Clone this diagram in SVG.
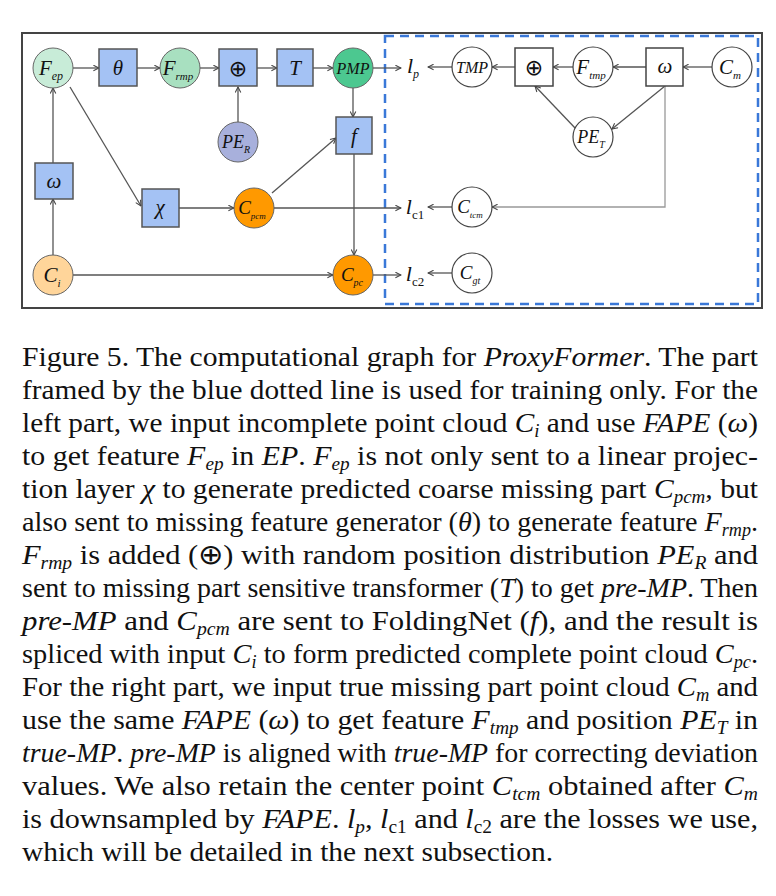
<svg xmlns="http://www.w3.org/2000/svg" width="776" height="896" viewBox="0 0 776 896">
<style>
.bx{fill:#a4c2f4;stroke:#555;stroke-width:1.5}
.wb{fill:#fff;stroke:#444;stroke-width:1.5}
.cw{fill:#fff;stroke:#444;stroke-width:1.2}
.m{font-family:"Liberation Serif",serif;font-style:italic;fill:#111;text-anchor:middle}
.e{stroke:#555;stroke-width:1.3;fill:none;marker-end:url(#a)}
.cap{font-family:"Liberation Serif",serif;font-size:28px;fill:#111}
.i{font-style:italic}
</style>
<defs>
<marker id="a" viewBox="0 0 10 10" refX="9" refY="5" markerWidth="7" markerHeight="7" orient="auto" markerUnits="userSpaceOnUse"><path d="M1,1 L9,5 L1,9" fill="none" stroke="#444" stroke-width="1.5"/></marker>
</defs>
<rect x="22" y="33" width="740" height="275" fill="#fff" stroke="#444" stroke-width="2"/>
<rect x="385" y="36" width="373" height="268" fill="none" stroke="#3a78d8" stroke-width="2.5" stroke-dasharray="9,6"/>
<g id="connectors">
<line class="e" x1="73" y1="68" x2="99" y2="68"/>
<line class="e" x1="137" y1="68" x2="160" y2="68"/>
<line class="e" x1="200" y1="68" x2="219" y2="68"/>
<line class="e" x1="257" y1="68" x2="277" y2="68"/>
<line class="e" x1="313" y1="68" x2="333" y2="68"/>
<line class="e" x1="373" y1="68" x2="401" y2="68"/>
<line class="e" x1="238" y1="122" x2="238" y2="87"/>
<line class="e" x1="353" y1="88" x2="353" y2="117"/>
<line class="e" x1="53" y1="255" x2="53" y2="199"/>
<line class="e" x1="53" y1="163" x2="53" y2="88"/>
<line class="e" x1="70" y1="87" x2="141" y2="206"/>
<line class="e" x1="179" y1="208" x2="234" y2="208"/>
<line class="e" x1="272" y1="193" x2="336" y2="138"/>
<line class="e" x1="274" y1="208" x2="401" y2="208"/>
<line class="e" x1="354" y1="154" x2="354" y2="255"/>
<line class="e" x1="73" y1="275" x2="333" y2="275"/>
<line class="e" x1="373" y1="275" x2="401" y2="275"/>
<line class="e" x1="712" y1="67" x2="683" y2="67"/>
<line class="e" x1="646" y1="67" x2="613" y2="67"/>
<line class="e" x1="573" y1="67" x2="553" y2="67"/>
<line class="e" x1="515" y1="67" x2="492" y2="67"/>
<line class="e" x1="452" y1="67" x2="428" y2="67"/>
<line class="e" x1="665" y1="86" x2="612" y2="129"/>
<line class="e" x1="576" y1="129" x2="535" y2="86"/>
<polyline class="e" style="stroke:#999" points="665,86 665,207 492,207"/>
<line class="e" x1="452" y1="207" x2="428" y2="207"/>
<line class="e" x1="452" y1="273" x2="428" y2="273"/>
</g>
<g id="Fep"><circle cx="53" cy="68" r="20" fill="#c8ecd8" stroke="#666"/><text class="m" x="51" y="75" font-size="21">F<tspan font-size="12" dy="5">ep</tspan></text></g>
<g id="theta"><rect class="bx" x="99" y="49" width="38" height="37"/><text class="m" x="118" y="75" font-size="21">θ</text></g>
<g id="Frmp"><circle cx="180" cy="68" r="20" fill="#a8e0c0" stroke="#666"/><text class="m" x="178" y="75" font-size="21">F<tspan font-size="11" dy="5">rmp</tspan></text></g>
<g id="plusL"><rect class="bx" x="219" y="49" width="38" height="37"/><text x="238" y="76" font-family="DejaVu Sans,sans-serif" font-size="22" text-anchor="middle" fill="#111">⊕</text></g>
<g id="T"><rect class="bx" x="277" y="49" width="36" height="37"/><text class="m" x="295" y="75" font-size="21">T</text></g>
<g id="PMP"><circle cx="353" cy="68" r="20" fill="#4cc890" stroke="#666"/><text class="m" x="353" y="74" font-size="16">PMP</text></g>
<g id="PER"><circle cx="238" cy="142" r="20" fill="#a8b0dc" stroke="#666"/><text class="m" x="236" y="148" font-size="18">PE<tspan font-size="10" dy="5">R</tspan></text></g>
<g id="f"><rect class="bx" x="336" y="117" width="36" height="37"/><text class="m" x="354" y="143" font-size="21">f</text></g>
<g id="omegaL"><rect class="bx" x="35" y="163" width="38" height="36"/><text class="m" x="54" y="188" font-size="21">ω</text></g>
<g id="chi"><rect class="bx" x="142" y="189" width="37" height="38"/><text class="m" x="160" y="214" font-size="21">χ</text></g>
<g id="Cpcm"><circle cx="254" cy="208" r="20" fill="#ff9900" stroke="#666"/><text class="m" x="252" y="214" font-size="19">C<tspan font-size="9" dy="5">pcm</tspan></text></g>
<g id="Ci"><circle cx="53" cy="275" r="20" fill="#ffd59a" stroke="#666"/><text class="m" x="52" y="282" font-size="21">C<tspan font-size="11" dy="5">i</tspan></text></g>
<g id="Cpc"><circle cx="353" cy="275" r="20" fill="#ff9900" stroke="#666"/><text class="m" x="352" y="281" font-size="19">C<tspan font-size="10" dy="5">pc</tspan></text></g>
<g id="lp"><text class="m" x="413" y="73" font-size="22">l<tspan font-size="12" dy="5">p</tspan></text></g>
<g id="lc1"><text class="m" x="415" y="214" font-size="22">l<tspan font-size="13" dy="5" font-style="normal">c1</tspan></text></g>
<g id="lc2"><text class="m" x="415" y="281" font-size="22">l<tspan font-size="13" dy="5" font-style="normal">c2</tspan></text></g>
<g id="TMP"><circle class="cw" cx="472" cy="67" r="20"/><text class="m" x="472" y="73" font-size="16">TMP</text></g>
<g id="plusR"><rect class="wb" x="515" y="48" width="38" height="38"/><text x="534" y="75" font-family="DejaVu Sans,sans-serif" font-size="22" text-anchor="middle" fill="#111">⊕</text></g>
<g id="Ftmp"><circle class="cw" cx="593" cy="67" r="20"/><text class="m" x="591" y="74" font-size="21">F<tspan font-size="11" dy="5">tmp</tspan></text></g>
<g id="omegaR"><rect class="wb" x="646" y="48" width="37" height="38"/><text class="m" x="665" y="73" font-size="21">ω</text></g>
<g id="Cm"><circle class="cw" cx="732" cy="67" r="20"/><text class="m" x="730" y="74" font-size="21">C<tspan font-size="11" dy="5">m</tspan></text></g>
<g id="PET"><circle class="cw" cx="593" cy="137" r="20"/><text class="m" x="591" y="143" font-size="18">PE<tspan font-size="10" dy="5">T</tspan></text></g>
<g id="Ctcm"><circle class="cw" cx="472" cy="207" r="20"/><text class="m" x="470" y="213" font-size="19">C<tspan font-size="9" dy="5">tcm</tspan></text></g>
<g id="Cgt"><circle class="cw" cx="472" cy="273" r="20"/><text class="m" x="470" y="279" font-size="19">C<tspan font-size="10" dy="5">gt</tspan></text></g>
<g id="caption" class="cap">
<text x="22" y="366" textLength="736" lengthAdjust="spacingAndGlyphs">Figure 5.  The computational graph for <tspan class="i">ProxyFormer</tspan>.  The part</text>
<text x="22" y="399" textLength="736" lengthAdjust="spacingAndGlyphs">framed by the blue dotted line is used for training only.  For the</text>
<text x="22" y="432" textLength="736" lengthAdjust="spacingAndGlyphs">left part, we input incomplete point cloud <tspan class="i">C</tspan><tspan class="i" font-size="18" baseline-shift="-5">i</tspan> and use <tspan class="i">FAPE</tspan> (<tspan class="i">ω</tspan>)</text>
<text x="22" y="465" textLength="736" lengthAdjust="spacingAndGlyphs">to get feature <tspan class="i">F</tspan><tspan class="i" font-size="18" baseline-shift="-5">ep</tspan> in <tspan class="i">EP</tspan>. <tspan class="i">F</tspan><tspan class="i" font-size="18" baseline-shift="-5">ep</tspan> is not only sent to a linear projec-</text>
<text x="22" y="498" textLength="736" lengthAdjust="spacingAndGlyphs">tion layer <tspan class="i">χ</tspan> to generate predicted coarse missing part <tspan class="i">C</tspan><tspan class="i" font-size="18" baseline-shift="-5">pcm</tspan>, but</text>
<text x="22" y="531" textLength="736" lengthAdjust="spacingAndGlyphs">also sent to missing feature generator (<tspan class="i">θ</tspan>) to generate feature <tspan class="i">F</tspan><tspan class="i" font-size="18" baseline-shift="-5">rmp</tspan>.</text>
<text x="22" y="564" textLength="736" lengthAdjust="spacingAndGlyphs"><tspan class="i">F</tspan><tspan class="i" font-size="18" baseline-shift="-5">rmp</tspan> is added (⊕) with random position distribution <tspan class="i">PE</tspan><tspan class="i" font-size="18" baseline-shift="-5">R</tspan> and</text>
<text x="22" y="597" textLength="736" lengthAdjust="spacingAndGlyphs">sent to missing part sensitive transformer (<tspan class="i">T</tspan>) to get <tspan class="i">pre-MP</tspan>. Then</text>
<text x="22" y="630" textLength="736" lengthAdjust="spacingAndGlyphs"><tspan class="i">pre-MP</tspan> and <tspan class="i">C</tspan><tspan class="i" font-size="18" baseline-shift="-5">pcm</tspan> are sent to FoldingNet (<tspan class="i">f</tspan>), and the result is</text>
<text x="22" y="663" textLength="736" lengthAdjust="spacingAndGlyphs">spliced with input <tspan class="i">C</tspan><tspan class="i" font-size="18" baseline-shift="-5">i</tspan> to form predicted complete point cloud <tspan class="i">C</tspan><tspan class="i" font-size="18" baseline-shift="-5">pc</tspan>.</text>
<text x="22" y="696" textLength="736" lengthAdjust="spacingAndGlyphs">For the right part, we input true missing part point cloud <tspan class="i">C</tspan><tspan class="i" font-size="18" baseline-shift="-5">m</tspan> and</text>
<text x="22" y="729" textLength="736" lengthAdjust="spacingAndGlyphs">use the same <tspan class="i">FAPE</tspan> (<tspan class="i">ω</tspan>) to get feature <tspan class="i">F</tspan><tspan class="i" font-size="18" baseline-shift="-5">tmp</tspan> and position <tspan class="i">PE</tspan><tspan class="i" font-size="18" baseline-shift="-5">T</tspan> in</text>
<text x="22" y="762" textLength="736" lengthAdjust="spacingAndGlyphs"><tspan class="i">true-MP</tspan>. <tspan class="i">pre-MP</tspan> is aligned with <tspan class="i">true-MP</tspan> for correcting deviation</text>
<text x="22" y="795" textLength="736" lengthAdjust="spacingAndGlyphs">values.  We also retain the center point <tspan class="i">C</tspan><tspan class="i" font-size="18" baseline-shift="-5">tcm</tspan> obtained after <tspan class="i">C</tspan><tspan class="i" font-size="18" baseline-shift="-5">m</tspan></text>
<text x="22" y="828" textLength="736" lengthAdjust="spacingAndGlyphs">is downsampled by <tspan class="i">FAPE</tspan>. <tspan class="i">l</tspan><tspan class="i" font-size="18" baseline-shift="-5">p</tspan>, <tspan class="i">l</tspan><tspan font-size="18" baseline-shift="-5">c1</tspan> and <tspan class="i">l</tspan><tspan font-size="18" baseline-shift="-5">c2</tspan> are the losses we use,</text>
<text x="22" y="861" textLength="531" lengthAdjust="spacingAndGlyphs">which will be detailed in the next subsection.</text>
</g>
</svg>
